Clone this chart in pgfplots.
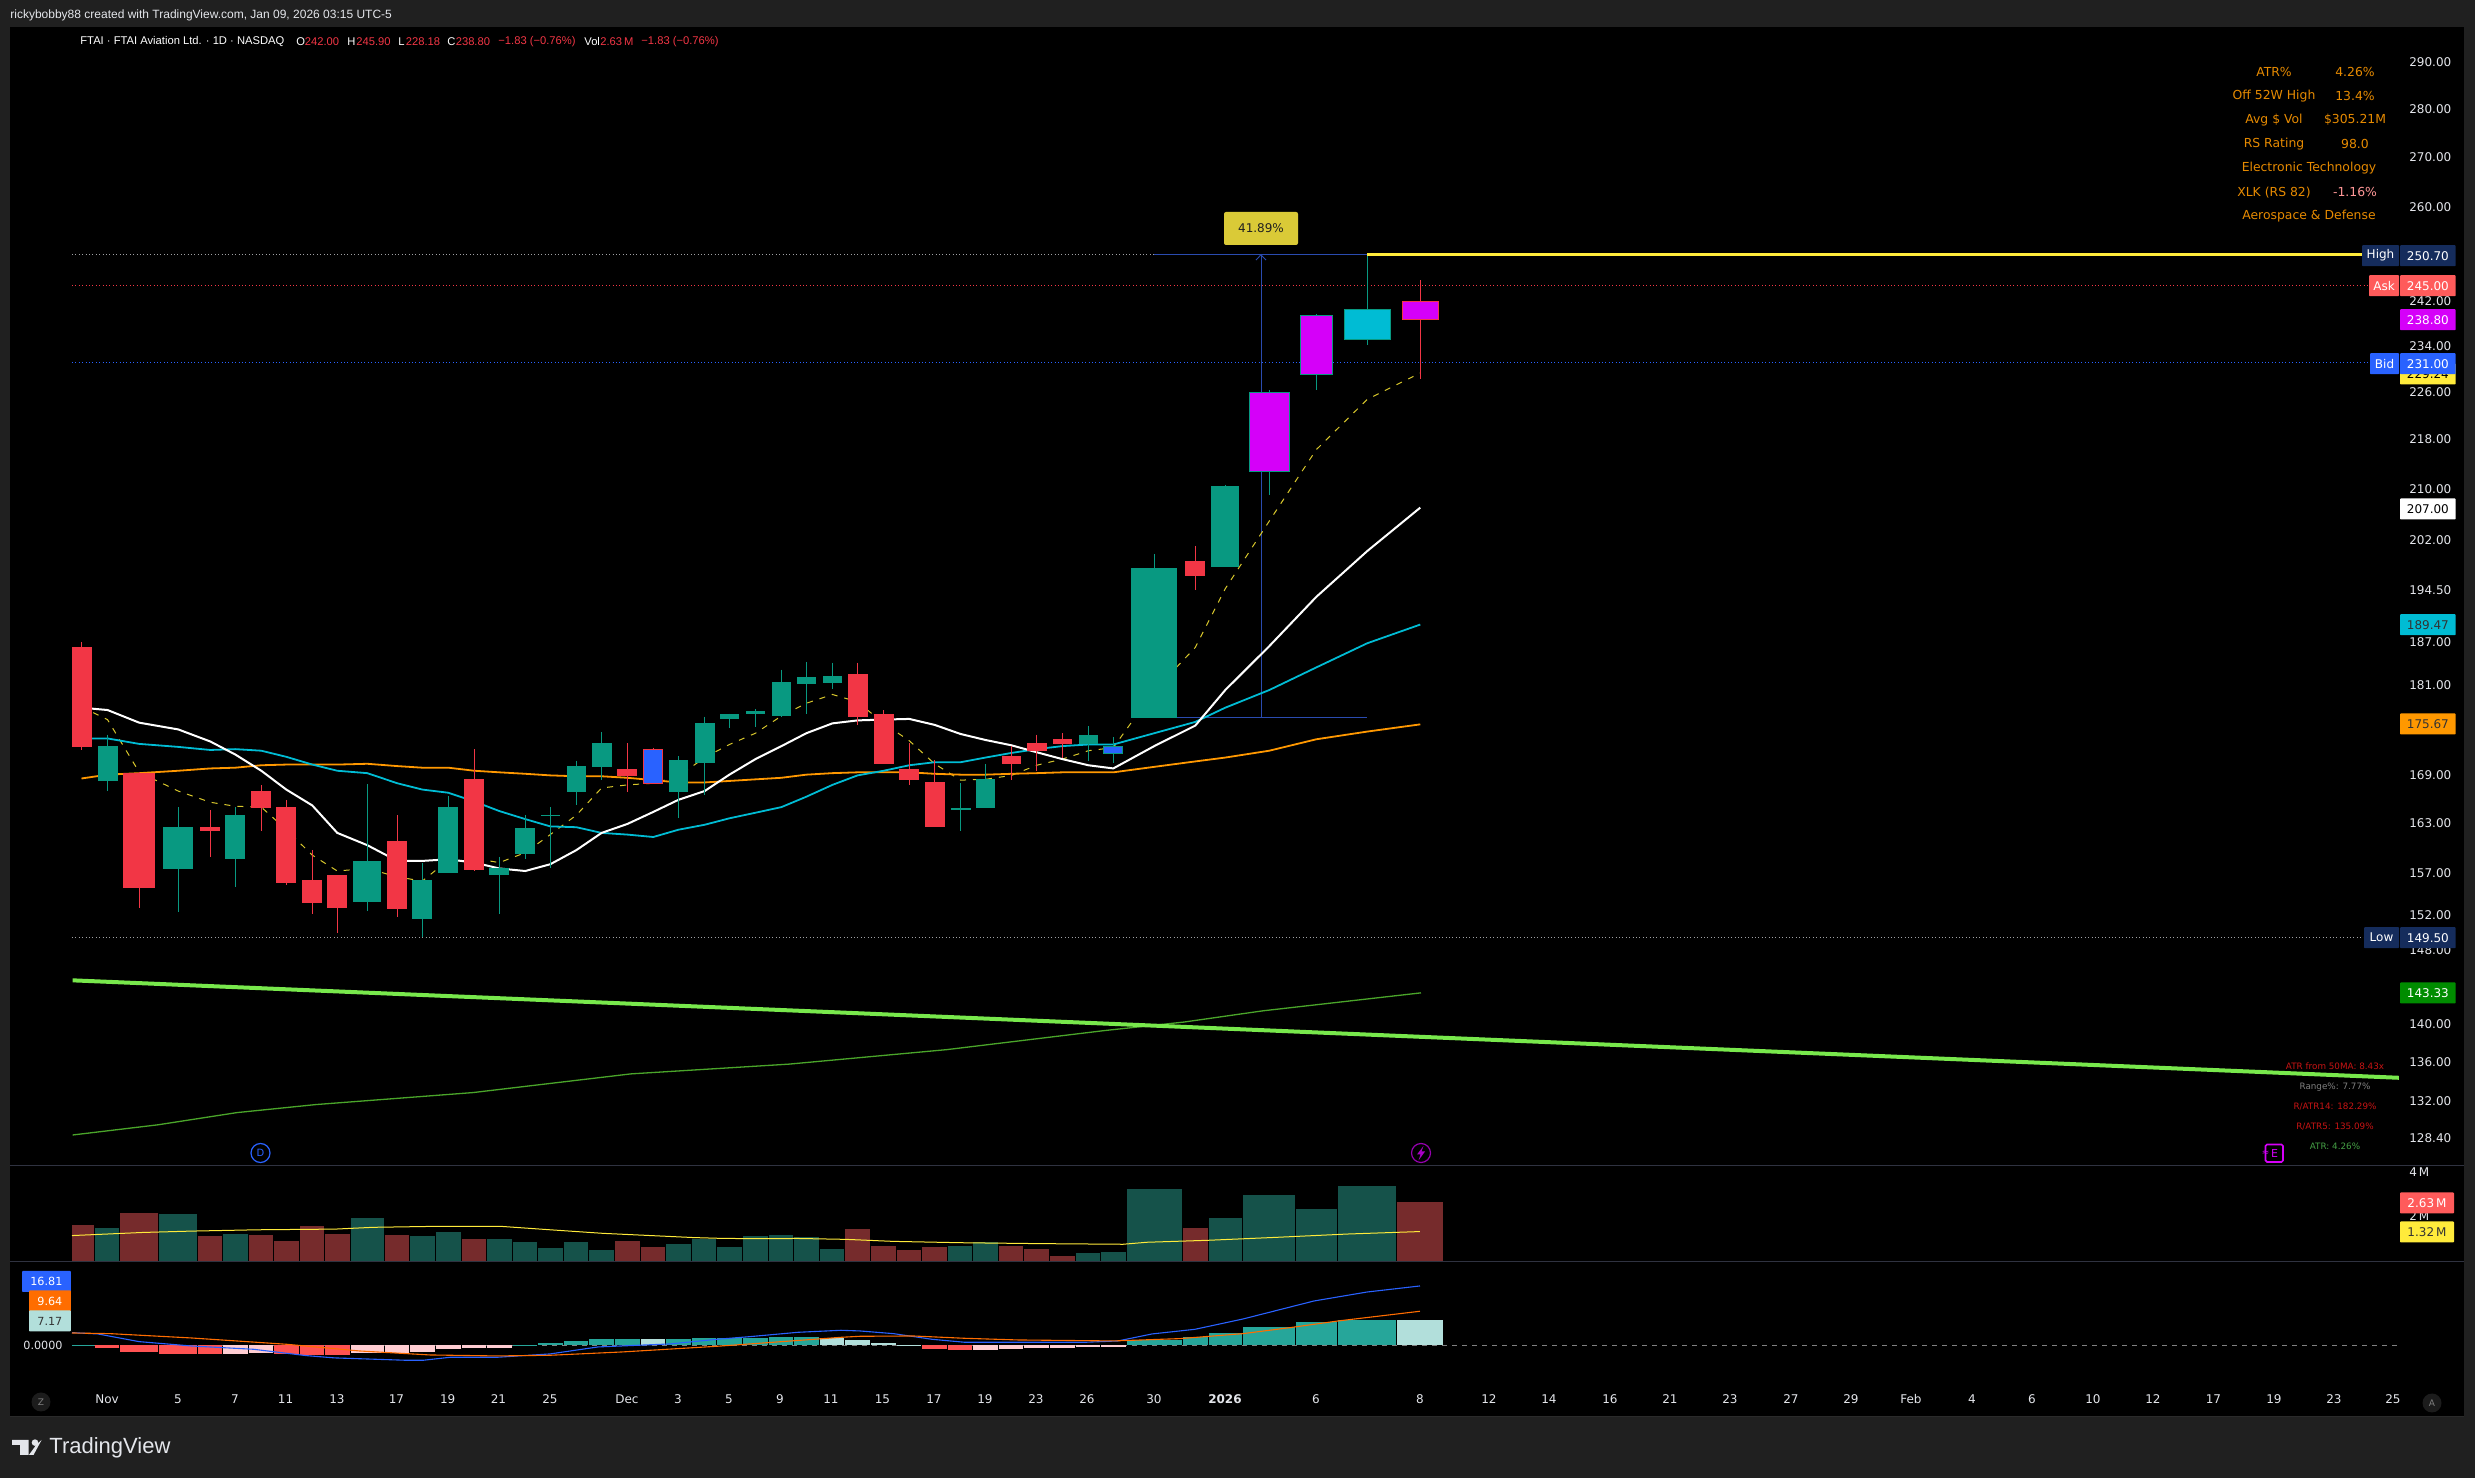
\documentclass[border=0pt]{standalone}
\usepackage{pgfplots}
\pgfplotsset{compat=1.18}
\usepackage{fontspec}
\setmainfont{DejaVu Sans}
\newfontfamily\lib{Liberation Sans}
\definecolor{bg}{HTML}{202020}
\definecolor{sepc}{HTML}{2F3240}
\definecolor{fr}{HTML}{2A2A2A}
\definecolor{ic}{HTML}{1C1C1C}
\definecolor{cg}{HTML}{089981}
\definecolor{cr}{HTML}{F23645}
\definecolor{cc}{HTML}{00BCD4}
\definecolor{mag}{HTML}{D500F9}
\definecolor{cb}{HTML}{2962FF}
\definecolor{co}{HTML}{FF9800}
\definecolor{cy}{HTML}{D8C72C}
\definecolor{hy}{HTML}{FFEB3B}
\definecolor{ma200}{HTML}{4AA52A}
\definecolor{trend}{HTML}{78E84C}
\definecolor{meas}{HTML}{2A4BB0}
\definecolor{vg}{HTML}{15524A}
\definecolor{vr}{HTML}{762B2C}
\definecolor{ht}{HTML}{26A69A}
\definecolor{hr}{HTML}{FF5252}
\definecolor{hp}{HTML}{FFCDD2}
\definecolor{hl}{HTML}{B2DFDB}
\definecolor{mo}{HTML}{FF6D00}
\definecolor{tk}{HTML}{E4E6EB}
\definecolor{tagb}{HTML}{152C5C}
\definecolor{rat}{HTML}{E68A00}
\definecolor{statr}{HTML}{C81414}
\definecolor{statg}{HTML}{45A045}
\newcommand{\candle}[8]{%
  \addplot[#8,line width=.6pt] coordinates {(#1,#5)(#1,#6)};
  \pgfmathsetmacro{\xa}{#1-#2}\pgfmathsetmacro{\xb}{#1+#2}%
  \edef\tmp{\noexpand\addplot[fill=#7,draw=#8,line width=.45pt] coordinates {(\xa,#3)(\xb,#3)(\xb,#4)(\xa,#4)} --cycle;}\tmp
}
\newcommand{\pbar}[4]{\addplot[fill=#4,draw=none] coordinates {(#1,0)(#2,0)(#2,#3)(#1,#3)} --cycle;}
\newcommand{\tagbox}[7]{% x1 x2 yc fill textcolor text fontsize
  \node[fill=#4,text=#5,minimum height=10.5pt,minimum width={(#2-#1)*0.5pt},inner sep=0pt,rounded corners=.4pt,
        font=\fontsize{#7}{8}\selectfont] at ({(#1+#2)/2},#3) {#6};}
\pgfplotsset{px/.style={scale only axis,anchor=south west,axis line style={draw=none},tick style={draw=none},
  xmin=10,xmax=2399,clip=true,xtick=\empty,yticklabel pos=right,
  ticklabel style={text=tk,font=\fontsize{6}{7}\selectfont,inner sep=0pt}}}
\begin{document}
\begin{tikzpicture}
\begin{scope}[x=.5pt,y=-.5pt,yshift=739pt]
\fill[bg] (0,0) rectangle (2475,1478);
\fill[black] (10,27) rectangle (2464,1417);
\end{scope}
% ---------- main price pane
\begin{axis}[px,at={(5pt,{(1478-1166)*.5pt})},width=1194.5pt,height=569.5pt,
  ymode=log,ymin=125.72,ymax=297.95,yminorticks=false,
  ytick={128.4,132,136,140,148,152,157,163,169,181,187,194.5,202,210,218,226,234,242,260,270,280,290},
  yticklabels={128.40,132.00,136.00,140.00,148.00,152.00,157.00,163.00,169.00,181.00,187.00,194.50,202.00,210.00,218.00,226.00,234.00,242.00,260.00,270.00,280.00,290.00},
  yticklabel style={xshift=5pt}]
% dotted level lines
\addplot[tk!70!black,dash pattern=on .5pt off 1.2pt,line width=.4pt] coordinates {(72,250.7)(1367,250.7)};
\addplot[cr,dash pattern=on .5pt off 1.2pt,line width=.45pt] coordinates {(72,245)(2369,245)};
\addplot[cb,dash pattern=on .5pt off 1.2pt,line width=.45pt] coordinates {(72,231)(2370,231)};
\addplot[tk!70!black,dash pattern=on .5pt off 1.2pt,line width=.4pt] coordinates {(72,149.5)(2364,149.5)};
% 200 day line
\addplot[ma200,line width=.65pt] coordinates {(72.6,128.7)(158,129.7)(237,130.9)(316,131.7)(473,132.9)(631,134.8)(789,135.8)(947,137.3)(1105,139.3)(1184,140.2)(1263,141.4)(1421,143.33)};
% trend line
\addplot[trend,line width=2pt] coordinates {(72.6,144.7)(2399,134.4)};
% measure tool
\addplot[meas,line width=.45pt] coordinates {(1154,250.7)(1367,250.7)};
\addplot[meas,line width=.45pt] coordinates {(1154,176.6)(1367,176.6)};
\addplot[meas,line width=.45pt] coordinates {(1261,176.6)(1261,250.7)};
\addplot[meas,line width=.45pt] coordinates {(1256,249.7)(1261,250.7)(1266,249.7)};
% 8 EMA dashed
\addplot[cy,dashed,dash pattern=on 3pt off 3.5pt,line width=.5pt] coordinates {(81.5,178.0)(107.5,176.3)(139.3,169.4)(178.3,167.0)(210.3,165.6)(235.3,165.1)(261.3,165.0)(286.3,162.2)(312.3,159.1)(337.3,157.2)(367.3,157.5)(397.3,156.5)(422.3,156.0)(448.3,158.5)(474.3,158.7)(499.3,158.2)(525.3,159.4)(550.3,161.6)(576.4,164.0)(601.6,167.4)(627.3,167.8)(653.3,168.0)(678.5,168.9)(704.6,171.3)(729.4,173.0)(755.5,174.5)(781.5,176.8)(806.4,178.5)(832.4,179.7)(857.6,178.7)(883.7,175.8)(909.3,173.5)(934.6,170.5)(960.6,168.4)(985.5,168.5)(1011.5,169.0)(1036.7,170.3)(1062.4,171.1)(1088.4,172.2)(1113.3,172.6)(1154.3,180.2)(1195.3,186.2)(1225.3,194.7)(1269.3,204.9)(1316.3,216.3)(1367.3,224.7)(1420.3,229.24)};
% orange
\addplot[co,line width=.9pt] coordinates {(81.5,168.6)(107.5,169.1)(139.3,169.3)(178.3,169.6)(210.3,169.9)(235.3,170.0)(261.3,170.3)(286.3,170.4)(312.3,170.4)(337.3,170.4)(367.3,170.5)(397.3,170.2)(422.3,170.0)(448.3,170.0)(474.3,169.6)(499.3,169.4)(525.3,169.2)(550.3,169.0)(576.4,168.9)(601.6,168.9)(627.3,168.7)(653.3,168.4)(678.5,168.1)(704.6,168.1)(729.4,168.3)(755.5,168.5)(781.5,168.7)(806.4,169.1)(832.4,169.3)(857.6,169.4)(883.7,169.4)(909.3,169.4)(934.6,169.2)(960.6,169.1)(985.5,169.1)(1011.5,169.2)(1036.7,169.3)(1062.4,169.4)(1088.4,169.4)(1113.3,169.4)(1154.3,170.1)(1195.3,170.8)(1225.3,171.3)(1269.3,172.2)(1316.3,173.7)(1367.3,174.7)(1420.3,175.67)};
% cyan
\addplot[cc,line width=.9pt] coordinates {(81.5,173.8)(107.5,173.8)(139.3,173.1)(178.3,172.7)(210.3,172.3)(235.3,172.4)(261.3,172.2)(286.3,171.4)(312.3,170.4)(337.3,169.6)(367.3,169.3)(397.3,168.0)(422.3,167.2)(448.3,166.8)(474.3,165.7)(499.3,164.5)(525.3,163.5)(550.3,162.6)(576.4,162.5)(601.6,161.8)(627.3,161.6)(653.3,161.3)(678.5,162.2)(704.6,162.8)(729.4,163.6)(755.5,164.3)(781.5,165.0)(806.4,166.3)(832.4,167.8)(857.6,169.0)(883.7,169.6)(909.3,170.3)(934.6,170.7)(960.6,170.7)(985.5,171.3)(1011.5,171.9)(1036.7,172.4)(1062.4,172.8)(1088.4,173.0)(1113.3,173.0)(1154.3,174.5)(1195.3,176.0)(1225.3,177.9)(1269.3,180.3)(1316.3,183.4)(1367.3,186.8)(1420.3,189.47)};
% white
\addplot[white,line width=1pt] coordinates {(81.5,177.9)(107.5,177.6)(139.3,175.9)(178.3,175.0)(210.3,173.4)(235.3,171.7)(261.3,169.6)(286.3,167.2)(312.3,165.2)(337.3,161.8)(367.3,160.3)(397.3,158.4)(422.3,158.4)(448.3,158.6)(474.3,158.2)(499.3,157.5)(525.3,157.2)(550.3,158.0)(576.4,159.7)(601.6,161.8)(627.3,162.9)(653.3,164.4)(678.5,165.9)(704.6,167.0)(729.4,169.1)(755.5,171.1)(781.5,172.8)(806.4,174.5)(832.4,175.8)(857.6,176.2)(883.7,176.3)(909.3,176.4)(934.6,175.6)(960.6,174.4)(985.5,173.6)(1011.5,172.9)(1036.7,172.0)(1062.4,171.1)(1088.4,170.3)(1113.3,169.9)(1154.3,172.8)(1195.3,175.5)(1225.3,180.3)(1269.3,186.4)(1316.3,193.5)(1367.3,200.3)(1420.3,207.0)};
% candles: x, half width, body top, body bottom, high, low, fill, edge
\candle{81.5}{9.5}{186.2}{172.8}{187.0}{172.3}{cr}{cr}
\candle{107.5}{9.5}{172.7}{168.4}{174.3}{167.0}{cg}{cg}
\candle{139.3}{15.5}{169.2}{155.2}{169.5}{152.9}{cr}{cr}
\candle{178.3}{14.5}{162.5}{157.5}{165.0}{152.4}{cg}{cg}
\candle{210.3}{9.5}{162.5}{162.1}{164.6}{158.9}{cr}{cr}
\candle{235.3}{9.5}{164.0}{158.7}{165.0}{155.3}{cg}{cg}
\candle{261.3}{9.5}{167.0}{165.0}{167.8}{162.1}{cr}{cr}
\candle{286.3}{9.5}{165.0}{155.8}{165.9}{155.5}{cr}{cr}
\candle{312.3}{9.5}{156.1}{153.5}{159.7}{152.1}{cr}{cr}
\candle{337.3}{9.5}{156.7}{152.9}{156.7}{150.0}{cr}{cr}
\candle{367.3}{13.5}{158.3}{153.6}{167.9}{152.5}{cg}{cg}
\candle{397.3}{9.5}{160.8}{152.8}{164.0}{151.8}{cr}{cr}
\candle{422.3}{9.5}{156.1}{151.7}{158.1}{149.5}{cg}{cg}
\candle{448.3}{9.5}{165.0}{157.0}{166.4}{157.0}{cg}{cg}
\candle{474.3}{9.5}{168.5}{157.4}{172.4}{157.2}{cr}{cr}
\candle{499.3}{9.5}{157.5}{156.8}{158.9}{152.2}{cg}{cg}
\candle{525.3}{9.5}{162.3}{159.3}{164.0}{158.6}{cg}{cg}
\candle{550.3}{9.2}{164.0}{163.95}{165.0}{157.5}{cg}{cg}
\candle{576.4}{9.4}{170.1}{166.9}{170.9}{165.3}{cg}{cg}
\candle{601.6}{9.4}{173.2}{170.1}{174.6}{168.4}{cg}{cg}
\candle{627.3}{9.4}{169.8}{169.0}{173.2}{166.9}{cr}{cr}
\candle{653.3}{9.4}{172.4}{168.0}{172.6}{167.9}{cb}{cr}
\candle{678.5}{9.4}{171.0}{167.0}{171.5}{163.6}{cg}{cg}
\candle{704.6}{9.4}{175.8}{170.7}{176.7}{166.5}{cg}{cg}
\candle{729.4}{9.4}{177.0}{176.5}{177.1}{175.2}{cg}{cg}
\candle{755.5}{9.4}{177.4}{177.1}{177.7}{175.3}{cg}{cg}
\candle{781.5}{9.4}{181.3}{176.9}{183.1}{176.7}{cg}{cg}
\candle{806.4}{9.4}{182.0}{181.2}{184.2}{177.0}{cg}{cg}
\candle{832.4}{9.4}{182.1}{181.3}{184.1}{180.5}{cg}{cg}
\candle{857.6}{9.4}{182.4}{176.7}{184.1}{175.6}{cr}{cr}
\candle{883.7}{9.4}{177.0}{170.6}{177.6}{170.5}{cr}{cr}
\candle{909.3}{9.4}{169.8}{168.5}{173.2}{167.8}{cr}{cr}
\candle{934.6}{9.4}{168.1}{162.6}{171.0}{162.5}{cr}{cr}
\candle{960.6}{9.4}{164.8}{164.75}{168.0}{162.0}{cg}{cg}
\candle{985.5}{9.4}{168.5}{164.9}{170.5}{164.9}{cg}{cg}
\candle{1011.5}{9.4}{171.4}{170.6}{172.8}{168.4}{cr}{cr}
\candle{1036.7}{9.4}{173.1}{172.2}{174.3}{169.6}{cr}{cr}
\candle{1062.4}{9.4}{173.7}{173.1}{174.5}{171.3}{cr}{cr}
\candle{1088.4}{9.4}{174.2}{173.1}{175.4}{170.9}{cg}{cg}
\candle{1113.3}{9.4}{172.8}{171.8}{174.0}{170.6}{cb}{cg}
\candle{1154.3}{22.5}{197.8}{176.6}{199.9}{176.6}{cg}{cg}
\candle{1195.3}{9.5}{198.7}{196.7}{201.1}{194.5}{cr}{cr}
\candle{1225.3}{13.5}{210.4}{198.0}{210.6}{198.0}{cg}{cg}
\candle{1269.3}{20.2}{225.9}{212.7}{226.3}{209.0}{mag}{cg}
\candle{1316.3}{16.2}{239.5}{229.0}{239.7}{226.3}{mag}{cg}
\candle{1367.3}{23.2}{240.6}{235.1}{250.7}{234.1}{cc}{cg}
\candle{1420.3}{18.2}{242.0}{238.8}{245.9}{228.18}{mag}{cr}
% high line
\addplot[hy,line width=1.4pt] coordinates {(1367,250.7)(2362,250.7)};
\end{axis}
% ---------- volume pane
\begin{axis}[px,at={(5pt,{(1478-1261)*.5pt})},width=1194.5pt,height=47.5pt,
  ymin=0,ymax=4.26,ytick={2,4},yticklabels={2\,M,4\,M},yticklabel style={xshift=5pt}]
\pbar{72.2}{94.2}{1.61}{vr}\pbar{95.2}{119.1}{1.48}{vg}\pbar{120}{157.8}{2.15}{vr}\pbar{158.8}{197}{2.11}{vg}
\pbar{198}{222}{1.12}{vr}\pbar{222.9}{247.8}{1.21}{vg}\pbar{249.2}{273}{1.17}{vr}\pbar{274}{299}{0.90}{vr}
\pbar{300}{323.8}{1.57}{vr}\pbar{324.8}{350}{1.21}{vr}\pbar{351}{384}{1.93}{vg}\pbar{385}{409}{1.17}{vr}
\pbar{410}{434.7}{1.12}{vg}\pbar{436.2}{461}{1.30}{vg}\pbar{462}{486}{0.99}{vr}\pbar{487}{511.8}{0.99}{vg}
\pbar{513.2}{537}{0.85}{vg}\pbar{538}{563}{0.58}{vg}\pbar{564}{588}{0.85}{vg}\pbar{588.8}{614}{0.49}{vg}
\pbar{615}{640}{0.90}{vr}\pbar{641}{665}{0.63}{vr}\pbar{665.8}{691}{0.76}{vg}\pbar{692}{716}{0.99}{vg}
\pbar{717}{742}{0.63}{vg}\pbar{742.8}{768}{1.12}{vg}\pbar{769}{793}{1.17}{vg}\pbar{794}{819}{1.08}{vg}
\pbar{820}{844}{0.54}{vg}\pbar{845}{870}{1.43}{vr}\pbar{871}{896}{0.67}{vr}\pbar{897}{921}{0.49}{vr}
\pbar{922}{947}{0.63}{vr}\pbar{948}{972}{0.67}{vg}\pbar{973}{998}{0.85}{vg}\pbar{999}{1023}{0.67}{vr}
\pbar{1024}{1049}{0.54}{vr}\pbar{1050}{1075}{0.22}{vr}\pbar{1076}{1100}{0.36}{vg}\pbar{1101}{1126}{0.40}{vg}
\pbar{1127}{1182}{3.23}{vg}\pbar{1183}{1208}{1.48}{vr}\pbar{1209}{1242}{1.93}{vg}\pbar{1243}{1295}{2.96}{vg}
\pbar{1296}{1337}{2.33}{vg}\pbar{1338}{1396}{3.36}{vg}\pbar{1397}{1443}{2.63}{vr}
\addplot[hy,line width=.5pt] coordinates {(72,1.14)(143,1.28)(191,1.34)(258,1.40)(335,1.43)(373,1.51)(430,1.55)(502,1.55)(550,1.40)(603,1.24)(646,1.15)(694,1.05)(717,1.02)(750,1.00)(798,1.01)(846,0.97)(893,0.88)(960,0.82)(1037,0.78)(1123,0.75)(1147,0.84)(1209,0.93)(1276,1.06)(1348,1.21)(1420,1.32)};
\end{axis}
% ---------- MACD pane
\begin{axis}[px,at={(5pt,{(1478-1385)*.5pt})},width=1194.5pt,height=62pt,
  ymin=-11.25,ymax=23.88,ytick=\empty,
  xtick={107,178,235,285.6,337,396.5,447.7,498.4,550,627,678,729,780,831,882.5,934,985,1036,1087,1154,1225,1316,1420,1489,1549,1610,1670,1730,1791,1851,1911,1972,2032,2093,2153,2213.5,2274,2334,2393},
  xticklabels={Nov,5,7,11,13,17,19,21,25,Dec,3,5,9,11,15,17,19,23,26,30,\textbf{2026},6,8,12,14,16,21,23,27,29,Feb,4,6,10,12,17,19,23,25},
  xticklabel style={yshift=-4.5pt},xticklabel pos=lower]
\addplot[gray,dashed,dash pattern=on 2.5pt off 2.5pt,line width=.35pt] coordinates {(72,0)(2399,0)};
\pbar{72.2}{94.2}{0.05}{ht}\pbar{95.2}{119.1}{-0.75}{hr}\pbar{120}{157.8}{-1.89}{hr}\pbar{158.8}{197}{-2.45}{hr}
\pbar{198}{222}{-2.45}{hr}\pbar{222.9}{247.8}{-2.45}{hp}\pbar{249.2}{273}{-2.17}{hp}\pbar{274}{299}{-2.45}{hr}
\pbar{300}{323.8}{-2.74}{hr}\pbar{324.8}{350}{-2.74}{hr}\pbar{351}{384}{-2.17}{hp}\pbar{385}{409}{-2.17}{hp}
\pbar{410}{434.7}{-1.89}{hp}\pbar{436.2}{461}{-1.04}{hp}\pbar{462}{486}{-0.75}{hp}\pbar{487}{511.8}{-0.75}{hp}
\pbar{513.2}{537}{0.05}{ht}\pbar{538}{563}{0.66}{ht}\pbar{564}{588}{1.23}{ht}\pbar{588.8}{614}{1.79}{ht}
\pbar{615}{640}{1.79}{ht}\pbar{641}{665}{1.79}{hl}\pbar{665.8}{691}{1.79}{ht}\pbar{692}{716}{2.08}{ht}
\pbar{717}{742}{2.08}{ht}\pbar{742.8}{768}{2.08}{ht}\pbar{769}{793}{2.36}{ht}\pbar{794}{819}{2.36}{ht}
\pbar{820}{844}{2.08}{hl}\pbar{845}{870}{1.51}{hl}\pbar{871}{896}{0.66}{hl}\pbar{897}{921}{0.09}{hl}
\pbar{922}{947}{-1.04}{hr}\pbar{948}{972}{-1.32}{hr}\pbar{973}{998}{-1.32}{hp}\pbar{999}{1023}{-1.04}{hp}
\pbar{1024}{1049}{-0.75}{hp}\pbar{1050}{1075}{-0.75}{hp}\pbar{1076}{1100}{-0.47}{hp}\pbar{1101}{1126}{-0.47}{hp}
\pbar{1127}{1182}{1.51}{ht}\pbar{1183}{1208}{2.36}{ht}\pbar{1209}{1242}{3.49}{ht}\pbar{1243}{1295}{5.19}{ht}
\pbar{1296}{1337}{6.60}{ht}\pbar{1338}{1396}{7.17}{ht}\pbar{1397}{1443}{7.17}{hl}
\addplot[cb,line width=.55pt] coordinates {(72,3.58)(98,3.21)(139,1.04)(191,-0.19)(253.5,-1.13)(306,-2.92)(335,-3.58)(406.6,-4.25)(423,-4.25)(450,-3.40)(497,-3.40)(550,-2.45)(598,-0.47)(670,0.38)(717,1.70)(750,2.45)(798,3.68)(841,4.25)(860,4.06)(893.5,3.30)(932,1.70)(965,0.85)(1085,0.85)(1118,1.23)(1152,3.21)(1195,4.53)(1243,7.45)(1314,12.55)(1367,15.09)(1420,16.81)};
\addplot[mo,line width=.55pt] coordinates {(72,3.49)(110,3.30)(191,2.08)(287,0.28)(359,-1.60)(430,-2.74)(497,-3.02)(550,-2.83)(622,-1.89)(717,-0.28)(750,0.38)(841,2.26)(860,2.55)(913,2.64)(965,1.98)(1018,1.51)(1113.5,1.23)(1180,1.89)(1243,3.30)(1290,5.0)(1338,6.89)(1420,9.64)};
\end{axis}
% ---------- overlay: pane lines, tags, annotations
\begin{scope}[x=.5pt,y=-.5pt,yshift=739pt]
\draw[sepc,line width=.5pt] (10,1166) -- (2464,1166);
\draw[sepc,line width=.5pt] (10,1261.5) -- (2464,1261.5);
\draw[fr,line width=.5pt] (10,1417) -- (2464,1417);
\fill[black] (2399.5,1390) rectangle (2420,1414);
% header
\node[anchor=west,inner sep=0,text=tk,font=\lib\fontsize{6}{7}\selectfont] at (10,15) {rickybobby88 created with TradingView.com, Jan 09, 2026 03:15 UTC-5};
\begin{scope}[every node/.style={anchor=west,inner sep=0,font=\lib\fontsize{5.6}{7}\selectfont}]
\node[text=white] at (80,42) {FTAI · FTAI Aviation Ltd. · 1D · NASDAQ};
\node[text=white] at (296,42) {O};\node[text=cr] at (304.5,42) {242.00};
\node[text=white] at (347,42) {H};\node[text=cr] at (356,42) {245.90};
\node[text=white] at (398,42) {L};\node[text=cr] at (405.5,42) {228.18};
\node[text=white] at (447,42) {C};\node[text=cr] at (455.4,42) {238.80};
\node[text=cr] at (498,42) {−1.83 (−0.76\%)};
\node[text=white] at (584,42) {Vol};\node[text=cr] at (600,42) {2.63\,M};
\node[text=cr] at (641,42) {−1.83 (−0.76\%)};
\end{scope}
% ratings table
\begin{scope}[every node/.style={inner sep=0,text=rat,font=\fontsize{6.2}{7}\selectfont}]
\node at (2274,72.3) {ATR\%};\node at (2355,72.3) {4.26\%};
\node at (2274,96) {Off 52W High};\node at (2355,96) {13.4\%};
\node at (2274,120) {Avg \$ Vol};\node at (2355,120) {\$305.21M};
\node at (2274,144.3) {RS Rating};\node at (2355,144.3) {98.0};
\node at (2309,168.3) {Electronic Technology};
\node at (2274,192.3) {XLK (RS 82)};\node[text=hr!60!white] at (2355,192.3) {-1.16\%};
\node at (2309,216.3) {Aerospace \& Defense};
\end{scope}
% stat lines
\begin{scope}[every node/.style={inner sep=0,font=\fontsize{4.4}{6}\selectfont}]
\node[text=statr] at (2335,1066.7) {ATR from 50MA: 8.43x};
\node[text=gray] at (2335,1086.7) {Range\%: 7.77\%};
\node[text=statr] at (2335,1106.7) {R/ATR14: 182.29\%};
\node[text=statr] at (2335,1126.7) {R/ATR5: 135.09\%};
\node[text=statg] at (2335,1146.7) {ATR: 4.26\%};
\end{scope}
% measure label
\node[fill=cy!95!white,rounded corners=1pt,text=bg,minimum width=37pt,minimum height=16.5pt,inner sep=0,font=\fontsize{6}{7}\selectfont] at (1261,228.5) {41.89\%};
% right price tags
\tagbox{2400}{2455.7}{374}{hy}{black}{229.24}{6}
\tagbox{2362}{2399}{255.7}{tagb}{white}{High}{6}
\tagbox{2400}{2455.7}{255.7}{tagb}{white}{250.70}{6}
\tagbox{2369}{2399}{285.7}{hr!95!white}{white}{Ask}{6}
\tagbox{2400}{2455.7}{285.7}{hr!95!white}{white}{245.00}{6}
\tagbox{2400}{2455.7}{319.7}{mag}{white}{238.80}{6}
\tagbox{2370}{2399}{363.7}{cb}{white}{Bid}{6}
\tagbox{2400}{2455.7}{363.7}{cb}{white}{231.00}{6}
\tagbox{2400}{2455.7}{509}{white}{black}{207.00}{6}
\tagbox{2400}{2455.7}{624.7}{cc}{black!80}{189.47}{6}
\tagbox{2400}{2455.7}{724}{co}{black!80}{175.67}{6}
\tagbox{2364}{2399}{937.7}{tagb}{white}{Low}{6}
\tagbox{2400}{2455.7}{937.7}{tagb}{white}{149.50}{6}
\tagbox{2400}{2455.7}{993}{green!55!black}{white}{143.33}{6}
\tagbox{2400}{2454}{1203}{hr!95!white}{white}{2.63\,M}{6}
\tagbox{2400}{2454}{1232}{hy}{black!80}{1.32\,M}{6}
% MACD tags
\tagbox{22}{70.8}{1281.5}{cb}{white}{16.81}{5.6}
\tagbox{29}{70.8}{1301}{mo}{white}{9.64}{5.6}
\tagbox{29}{70.8}{1321}{hl}{black!80}{7.17}{5.6}
\node[anchor=east,inner sep=0,text=tk,font=\fontsize{5.6}{7}\selectfont] at (63,1345.3) {0.0000};
% event icons
\draw[cb,line width=.6pt] (260.5,1153) circle (9.5);
\node[text=cb,inner sep=0,font=\fontsize{5}{6}\selectfont] at (260.5,1153) {D};
\draw[mag!70!black,line width=.6pt] (1421,1153) circle (9.5);
\fill[mag!80!black] (1423.5,1146) -- (1417,1154.5) -- (1420.5,1154.5) -- (1418.5,1160.5) -- (1425,1151.5) -- (1421.5,1151.5) -- cycle;
\draw[mag,line width=.8pt,rounded corners=.8pt] (2265.5,1144.5) rectangle (2283,1162);
\node[text=mag,inner sep=0,font=\fontsize{5.5}{6}\selectfont] at (2274.5,1153) {E};
\node[text=mag,inner sep=0,font=\fontsize{4.5}{6}\selectfont] at (2265.5,1153) {≈};
\fill[ic] (41,1402) circle (9.5);
\node[text=gray,inner sep=0,font=\fontsize{4.5}{6}\selectfont] at (41,1402) {Z};
\fill[ic] (2432,1403) circle (9.5);
\node[text=gray,inner sep=0,font=\fontsize{4.5}{6}\selectfont] at (2432,1403) {A};
% logo
\fill[tk] (12,1440) -- (28.7,1440) -- (28.7,1455) -- (20,1455) -- (20,1445) -- (12,1445) -- cycle;
\fill[tk] (35,1442.6) circle (3.3);
\fill[tk] (41.6,1440) -- (33.5,1455) -- (28.9,1455) -- (36.5,1444.5) -- cycle;
\node[anchor=west,inner sep=0,text=tk,font=\lib\fontsize{11}{13}\selectfont] at (49,1448) {TradingView};
\end{scope}
\end{tikzpicture}
\end{document}
